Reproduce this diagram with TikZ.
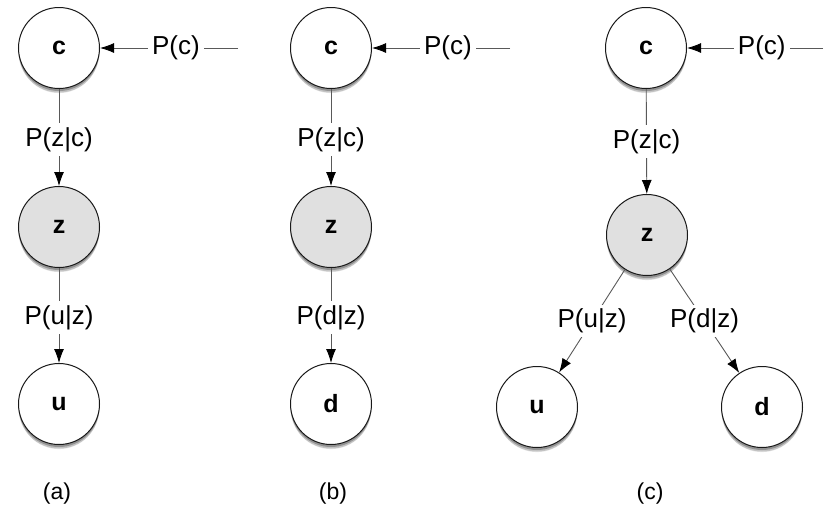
\documentclass[tikz,border=0pt]{standalone}
\usepackage{fontspec}
\setmainfont{Liberation Sans}
\usetikzlibrary{shadows,arrows.meta}
\tikzset{
  var/.style={circle,draw=black!90,line width=1pt,minimum size=81pt,inner sep=0pt,fill=white,
    font=\fontsize{25}{27}\selectfont\bfseries,
    drop shadow={shadow xshift=0pt,shadow yshift=-5.5pt,shadow scale=0.98,opacity=0.10,fill=black},
    drop shadow={shadow xshift=0pt,shadow yshift=-4pt,opacity=0.15,fill=black},
    drop shadow={shadow xshift=0pt,shadow yshift=-2.5pt,opacity=0.25,fill=black}},
  obs/.style={var,fill=black!12},
  lab/.style={fill=white,inner sep=4pt,font=\fontsize{26}{28}\selectfont},
  edge/.style={draw=black!65,line width=0.9pt,-{Latex[length=14pt,width=10pt,color=black]}},
  captxt/.style={font=\fontsize{23}{25}\selectfont}
}
\begin{document}
\begin{tikzpicture}[x=1pt,y=-1pt]
\useasboundingbox (0,0) rectangle (832,515);
% (a)
\node[var] (ca) at (59,48) {c};
\node[obs] (za) at (59,227) {z};
\node[var] (ua) at (59,404) {u};
\coordinate (pa) at (238,48);
\draw[edge] (pa) -- node[lab,pos=0.45] {P(c)} (ca);
\draw[edge] (ca) -- node[lab,pos=0.52] {P(z|c)} (za);
\draw[edge] (za) -- node[lab,pos=0.52] {P(u|z)} (ua);
\node[captxt] (capa) at (57,494) {(a)};
% (b)
\node[var] (cb) at (331,48) {c};
\node[obs] (zb) at (331,227) {z};
\node[var] (db) at (331,404) {d};
\coordinate (pb) at (510,48);
\draw[edge] (pb) -- node[lab,pos=0.45] {P(c)} (cb);
\draw[edge] (cb) -- node[lab,pos=0.52] {P(z|c)} (zb);
\draw[edge] (zb) -- node[lab,pos=0.52] {P(d|z)} (db);
\node[captxt] (capb) at (333,494) {(b)};
% (c)
\node[var] (cc) at (646,48) {c};
\node[obs] (zc) at (647,235) {z};
\node[var] (uc) at (537,407) {u};
\node[var] (dc) at (762,407) {d};
\coordinate (pc) at (823,48);
\draw[edge] (pc) -- node[lab,pos=0.45] {P(c)} (cc);
\draw[edge] (cc) -- node[lab,pos=0.5] {P(z|c)} (zc);
\draw[edge] (zc) -- node[lab,pos=0.5] {P(u|z)} (uc);
\draw[edge] (zc) -- node[lab,pos=0.5] {P(d|z)} (dc);
\node[captxt] (capc) at (650,494) {(c)};
\end{tikzpicture}
\end{document}
